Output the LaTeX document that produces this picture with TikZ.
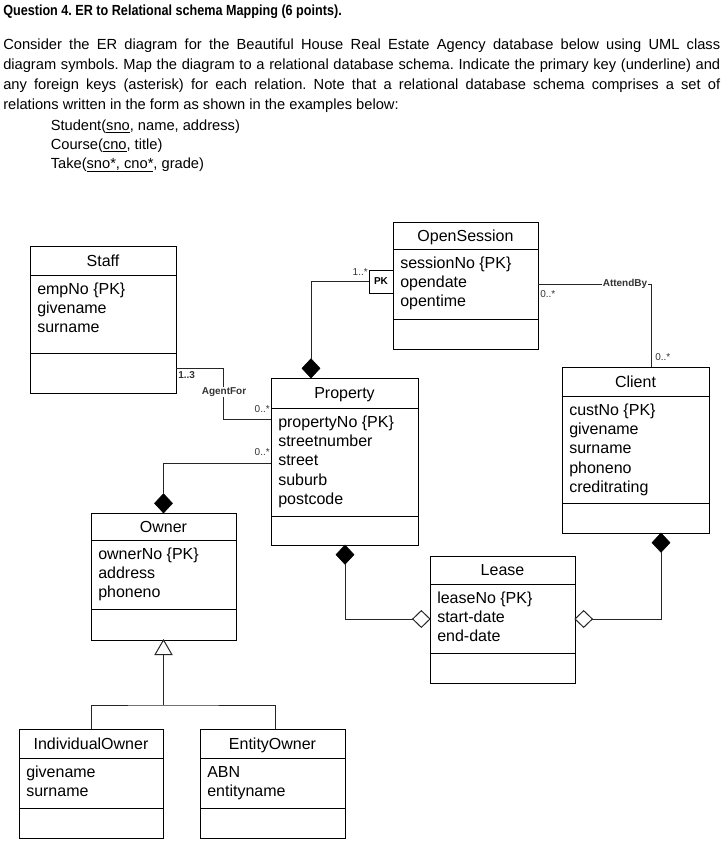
\documentclass[tikz,border=0pt]{standalone}
\usepackage{fontspec}
\usepackage{graphicx}
\setmainfont{Liberation Sans}
\usetikzlibrary{shapes.geometric,calc}
\frenchspacing

\newcommand{\attrlist}[1]{\begin{tabular}[t]{@{}l@{}}#1\end{tabular}}
\newcommand{\umlclass}[9]{%
  \node[clsbox, minimum width=#4*0.75pt, minimum height=#5*0.75pt] (#1) at (#2,#3) {};
  \draw[boxline] ($(#1.north west)+(0,#6)$) -- ($(#1.north east)+(0,#6)$);
  \draw[boxline] ($(#1.north west)+(0,#7)$) -- ($(#1.north east)+(0,#7)$);
  \node[clstitle, anchor=base] (#1-title) at ($(#1.north)+(0,#6/2+5.5)$) {#8};
  \node[attrs] (#1-attrs) at ($(#1.north west)+(7,#6+19)$) {\attrlist{#9}};
}

\begin{document}
\begin{tikzpicture}[x=0.75pt,y=-0.75pt,
  boxline/.style={line width=0.75pt},
  clsbox/.style={draw, line width=0.75pt, inner sep=0, outer sep=0, anchor=north west},
  clstitle/.style={font=\fontsize{12}{14}\selectfont, inner sep=0},
  attrs/.style={font=\fontsize{12}{14.6}\selectfont, inner sep=0, anchor=base west},
  conn/.style={line width=0.75pt, draw=black!85},
  lbl/.style={font=\fontsize{7.5}{8}\selectfont, inner sep=0, text=black!80},
  lblb/.style={font=\bfseries\fontsize{7.5}{8}\selectfont, inner sep=0.6pt, text=black!80, fill=white},
  fdia/.style={diamond, draw=black, fill=black, inner sep=0, outer sep=0, minimum width=13.5pt, minimum height=14.5pt},
  odia/.style={diamond, draw=black!85, line width=0.75pt, fill=white, inner sep=0, outer sep=0, minimum width=13pt, minimum height=12.5pt},
  txt/.style={font=\fontsize{11}{15}\selectfont, inner sep=0, anchor=base west}
]
\useasboundingbox (0,0) rectangle (725,842);

% ---------- header text ----------
\node[txt, font=\bfseries\fontsize{11}{15}\selectfont] (title) at (3,15.5)
  {\scalebox{0.86}[1]{Question 4. ER to Relational schema Mapping (6 points).}};
\node[txt] (p1) at (3,49.5) {\makebox[537.75pt][s]{Consider the ER diagram for the Beautiful House Real Estate Agency database below using UML class}};
\node[txt] (p2) at (3,69.5) {\makebox[537.75pt][s]{diagram symbols. Map the diagram to a relational database schema. Indicate the primary key (underline) and}};
\node[txt] (p3) at (3,89.5) {\makebox[537.75pt][s]{any foreign keys (asterisk) for each relation. Note that a relational database schema comprises a set of}};
\node[txt] (p4) at (3,109.5) {relations written in the form as shown in the examples below:};
\node[txt] (ex1) at (50.5,130) {Student(\underline{sno}, name, address)};
\node[txt] (ex2) at (50.5,149) {Course(\underline{cno}, title)};
\node[txt] (ex3) at (50.5,168) {Take(\underline{sno*, cno*}, grade)};

% ---------- classes ----------
\umlclass{staff}{30}{246}{146}{147}{29}{107}{Staff}{empNo \{PK\}\\givename\\surname}
\umlclass{opens}{393}{222}{145}{127}{27}{97}{OpenSession}{sessionNo \{PK\}\\opendate\\opentime}
\umlclass{prop}{271}{378}{147}{167}{30}{138}{Property}{propertyNo \{PK\}\\streetnumber\\street\\suburb\\postcode}
\umlclass{client}{562}{367}{147}{166}{29}{136}{Client}{custNo \{PK\}\\givename\\surname\\phoneno\\creditrating}
\umlclass{owner}{91}{513}{145}{127}{27}{96}{Owner}{ownerNo \{PK\}\\address\\phoneno}
\umlclass{lease}{430}{556}{145}{127}{28}{97}{Lease}{leaseNo \{PK\}\\start-date\\end-date}
\umlclass{indiv}{19}{729}{144}{109}{29}{79}{IndividualOwner}{givename\\surname}
\umlclass{entity}{200}{729}{145}{109}{29}{79}{EntityOwner}{ABN\\entityname}

% ---------- OpenSession -- Property (qualifier PK) ----------
\node[draw, line width=0.75pt, inner sep=0, outer sep=0, anchor=north east,
      minimum width=24*0.75pt, minimum height=23*0.75pt,
      font=\bfseries\fontsize{7.5}{8}\selectfont] (pk) at ($(opens.north west)+(0,48)$) {PK};
\node[fdia, anchor=south] (d1) at ($(prop.north west)+(40,0)$) {};
\draw[conn] (pk.west) -| (d1.north);
\node[lbl, anchor=base east] (m1) at (368,275) {1..*};

% ---------- Staff -- Property (AgentFor) ----------
\draw[conn] ($(staff.north east)+(0,122)$) -| ($(prop.north west)+(-48,41)$) -- ($(prop.north west)+(0,41)$);
\node[lbl, font=\bfseries\fontsize{7.5}{8}\selectfont, anchor=base west] (m2) at (178,378) {1..3};
\node[lblb] (agentfor) at (224,392) {AgentFor};
\node[lbl, anchor=base east] (m3) at (270,412) {0..*};

% ---------- Owner -- Property ----------
\node[fdia, anchor=south] (d2) at (owner.north) {};
\draw[conn] ($(prop.north west)+(0,85)$) -| (d2.north);
\node[lbl, anchor=base east] (m4) at (270,455) {0..*};

% ---------- OpenSession -- Client (AttendBy) ----------
\draw[conn] ($(opens.north east)+(0,62)$) -| ($(client.north west)+(89,0)$);
\node[lblb] (attendby) at (625,284) {AttendBy};
\node[lbl, anchor=base west] (m5) at (540,297) {0..*};
\node[lbl, anchor=base west] (m6) at (655,360) {0..*};

% ---------- Lease aggregations ----------
\node[fdia, anchor=north] (d3) at ($(prop.south west)+(74,0)$) {};
\node[fdia, anchor=north] (d4) at ($(client.south west)+(99,0)$) {};
\node[odia, anchor=east] (o1) at ($(lease.north west)+(0,63)$) {};
\node[odia, anchor=west] (o2) at ($(lease.north east)+(0,63)$) {};
\draw[conn] (d3.south) |- (o1.west);
\draw[conn] (d4.south) |- (o2.east);

% ---------- generalisation ----------
\node[regular polygon, regular polygon sides=3, draw=black!85, line width=0.75pt, fill=white,
      inner sep=0, outer sep=0, minimum size=14.7pt, anchor=corner 1] (tri) at (owner.south) {};
\coordinate (gj) at ($(owner.south)+(0,65)$);
\draw[conn] (tri.side 2) -- (gj);
\draw[conn] (indiv.north) |- (gj) -| ($(entity.north)+(3,0)$);
\end{tikzpicture}
\end{document}
